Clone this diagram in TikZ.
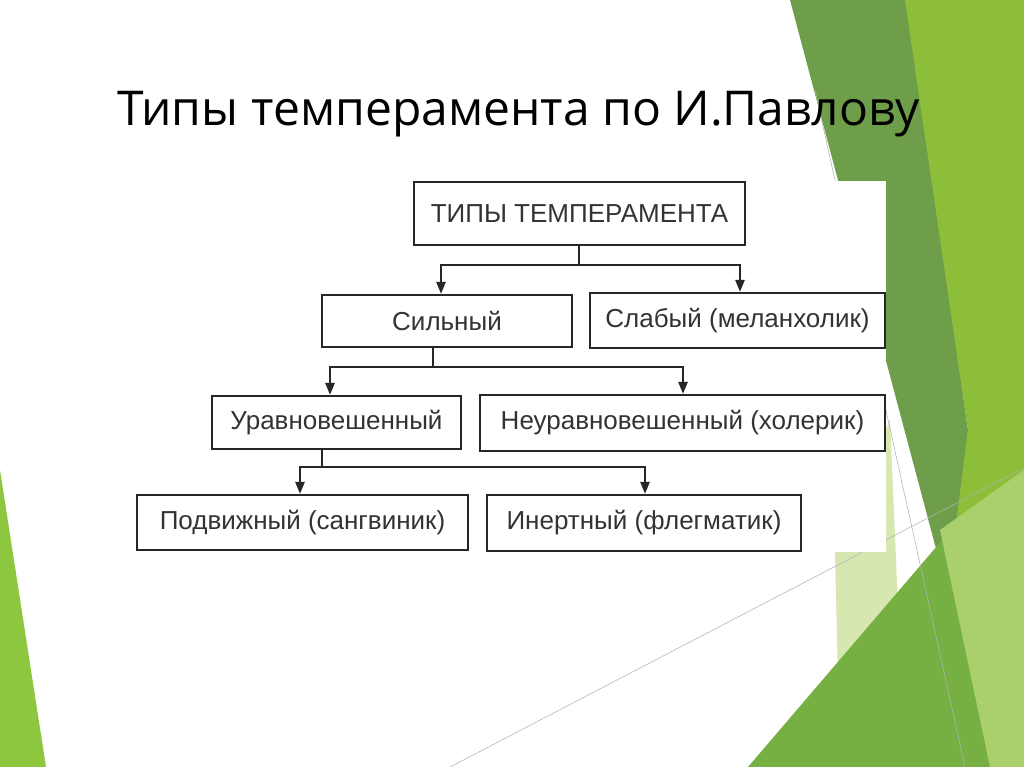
\documentclass[tikz,border=0pt]{standalone}
\usepackage{fontspec}
\setmainfont{Liberation Sans}
\newfontfamily\titlefont{Open Sans}
\usetikzlibrary{arrows.meta}
\begin{document}
\begin{tikzpicture}[x=0.75pt,y=-0.75pt,
  box/.style={draw=black!85,line width=1.8pt,fill=white,inner sep=0pt,font=\fontsize{19.5}{22}\selectfont,text=black!80},
  conn/.style={draw=black!85,line width=1.4pt},
  arr/.style={conn,-{Triangle[length=9pt,width=7pt]}}]
\useasboundingbox (0,0) rectangle (1024,767);
\fill[white] (0,0) rectangle (1024,767);
% background shapes
\fill[color={rgb,255:red,110;green,158;blue,74}] (790,0) -- (907,0) -- (968,430) -- (955,620) -- cycle;
\fill[color={rgb,255:red,141;green,190;blue,58}] (905,0) -- (1024,0) -- (1024,767) -- (925,767) -- (968,430) -- cycle;
\fill[color={rgb,255:red,214;green,232;blue,176}] (835,552) -- (890,420) -- (905,767) -- (840,767) -- cycle;
\fill[color={rgb,255:red,118;green,176;blue,67}] (748,767) -- (955,525) -- (990,767) -- cycle;
\fill[color={rgb,255:red,170;green,208;blue,110}] (940,530) -- (1024,470) -- (1024,767) -- (990,767) -- cycle;
\fill[color={rgb,255:red,141;green,198;blue,63}] (0,470) -- (46,767) -- (0,767) -- cycle;
\draw[black!30,line width=0.4pt] (815,90) -- (965,767);
\draw[black!30,line width=0.4pt] (450,767) -- (1024,468);
% white panel
\fill[white] (352,181) rectangle (886,552);
% title
\node[font=\titlefont\fontsize{36}{40}\selectfont,anchor=base west,inner sep=0pt] (title) at (117,125) {Типы темперамента по И.Павлову};
% boxes
\node[box,minimum width=331*0.75pt,minimum height=63*0.75pt] (top) at (579.5,213.5) {ТИПЫ ТЕМПЕРАМЕНТА};
\node[box,minimum width=250*0.75pt,minimum height=52*0.75pt] (strong) at (447,321) {Сильный};
\node[box,minimum width=295*0.75pt,minimum height=55*0.75pt] (weak) at (737.5,320.5) {Слабый (меланхолик)};
\node[box,minimum width=249*0.75pt,minimum height=53*0.75pt] (bal) at (336.5,422.5) {Уравновешенный};
\node[box,minimum width=405*0.75pt,minimum height=56*0.75pt] (unbal) at (682.5,423) {Неуравновешенный (холерик)};
\node[box,minimum width=331*0.75pt,minimum height=55*0.75pt] (mob) at (302.5,522.5) {Подвижный (сангвиник)};
\node[box,minimum width=314*0.75pt,minimum height=56*0.75pt] (inert) at (644,523) {Инертный (флегматик)};
% connectors
\coordinate (j1) at (579,265);
\draw[conn] (top.south -| j1) -- (j1);
\draw[arr] (j1) -| (strong.north -| 441,0);
\draw[arr] (j1) -| (weak.north -| 740,0);
\coordinate (j2) at (433,367);
\draw[conn] (strong.south -| j2) -- (j2);
\draw[arr] (j2) -| (bal.north -| 330,0);
\draw[arr] (j2) -| (unbal.north -| 683,0);
\coordinate (j3) at (322,467);
\draw[conn] (bal.south -| j3) -- (j3);
\draw[arr] (j3) -| (mob.north -| 300,0);
\draw[arr] (j3) -| (inert.north -| 645,0);
\end{tikzpicture}
\end{document}
